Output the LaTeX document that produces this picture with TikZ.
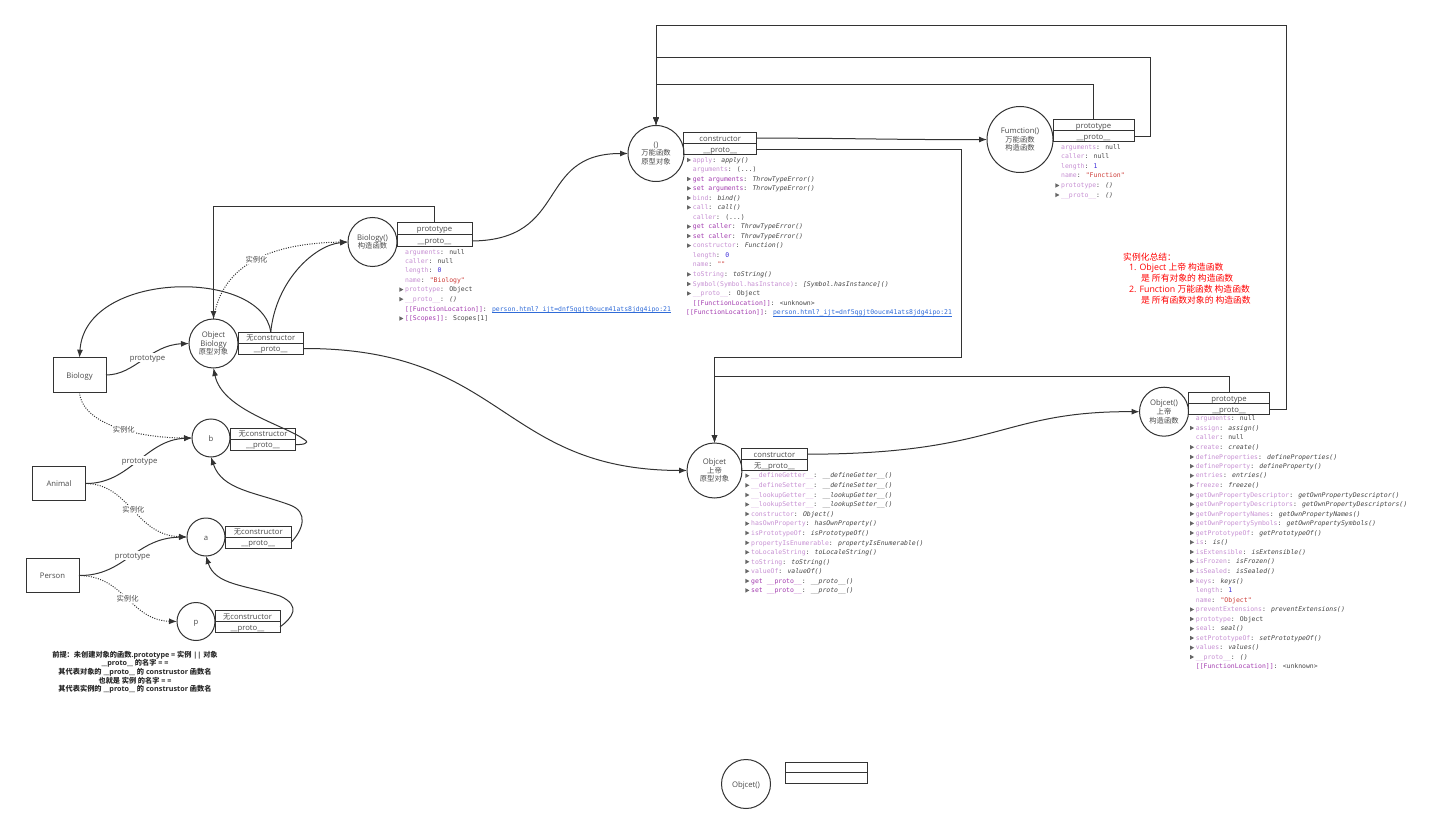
\documentclass[tikz,border=0pt]{standalone}
\usepackage{fontspec}
\setmainfont{Open Sans}
\newfontfamily\cjkf{Noto Sans CJK SC}
\newfontfamily\monof{DejaVu Sans Mono}
\usetikzlibrary{arrows.meta}
\definecolor{ink}{HTML}{333333}
\definecolor{txt}{HTML}{4A4A4A}
\definecolor{keyc}{HTML}{C68FD2}
\definecolor{accc}{HTML}{A23AAE}
\definecolor{valc}{HTML}{444444}
\definecolor{numc}{HTML}{3A2AD8}
\definecolor{strc}{HTML}{CC3A36}
\definecolor{linkc}{HTML}{2F6BD8}
\newcommand\C[1]{{\cjkf #1}}
\newcommand\LC[1]{{\fontsize{7.3}{8.7}\selectfont\cjkf #1}}
\newcommand\K[1]{\textcolor{keyc}{#1}}
\newcommand\A[1]{\textcolor{accc}{#1}}
\newcommand\I[1]{\textcolor{valc}{\itshape #1}}
\newcommand\Nn[1]{\textcolor{numc}{#1}}
\newcommand\St[1]{\textcolor{strc}{#1}}
\newcommand\Lk[1]{\textcolor{linkc}{\underline{\smash{#1}}}}
\def\lx{0}
\newcommand\pr[3]{\node[monotext] at (\lx,#1+2.2) {#3};\ifnum#2=1 \fill[tri] (\lx-5.6,#1-2.2) -- (\lx-1.6,#1) -- (\lx-5.6,#1+2.2) -- cycle;\fi}
\tikzset{
  x=1pt,y=-1pt,
  line/.style={draw=ink,line width=1pt},
  arr/.style={line,-{Latex[length=8pt,width=6pt]}},
  dotarr/.style={draw=ink,line width=1pt,dash pattern=on 1pt off 1.4pt,-{Latex[length=8pt,width=6pt]}},
  lab/.style={font=\fontsize{7.7}{8.7}\selectfont,text=txt,align=center,inner sep=0.5pt,outer sep=0pt},
  clab/.style={lab,fill=white,text height=7pt,text depth=1pt},
  cell/.style={lab,draw=ink,line width=1pt,minimum height=11pt,anchor=north west,inner sep=0pt,text height=7pt,text depth=1pt},
  rnd/.style={lab,draw=ink,line width=1pt,circle,inner sep=0pt,fill=white,execute at begin node={\rule{0pt}{8pt}}},
  box/.style={lab,draw=ink,line width=1pt,rectangle,inner sep=0pt,minimum width=53pt,minimum height=34.5pt,fill=white,text height=7pt,text depth=1pt},
  monotext/.style={font=\fontsize{6.46}{7}\selectfont\monof,anchor=base west,inner sep=0pt,text=valc},
  tri/.style={fill=black!60},
  redtext/.style={font=\fontsize{8.8}{10}\selectfont,text=red,anchor=west,inner sep=0pt},
  blacktext/.style={font=\fontsize{7.2}{8.6}\selectfont\bfseries,text=black!85,align=center,inner sep=0pt},
}
\begin{document}
\begin{tikzpicture}
\useasboundingbox (0,0) rectangle (1440,826);

% rectangles
\node[box] (biology) at (79.5,375) {Biology};
\node[box] (animal) at (59,483.5) {Animal};
\node[box] (person) at (52.5,575.5) {Person};

% circles
\node[rnd,minimum size=49pt] (objbio) at (213.5,343.5) {Object\\Biology\\\LC{原型对象}};
\node[rnd,minimum size=38pt] (b) at (211,438) {b};
\node[rnd,minimum size=38pt] (a) at (206,537) {a};
\node[rnd,minimum size=38pt] (p) at (196,621.5) {p};
\node[rnd,minimum size=49pt] (bioc) at (372.5,242) {Biology()\\\LC{构造函数}};
\node[rnd,minimum size=56pt] (fc) at (656,153.5) {()\\\LC{万能函数}\\\LC{原型对象}};
\node[rnd,minimum size=66pt] (fumc) at (1020,139.5) {Fumction()\\\LC{万能函数}\\\LC{构造函数}};
\node[rnd,minimum size=55pt] (oc) at (714.5,470.5) {Objcet\\\LC{上帝}\\\LC{原型对象}};
\node[rnd,minimum size=49pt] (objc) at (1164,411.7) {Objcet()\\\LC{上帝}\\\LC{构造函数}};
\node[rnd,minimum size=49pt] (lone) at (746,784) {Objcet()};

% tables
\node[cell,minimum width=65.5pt] (objbioA) at (238,332) {\LC{无}constructor};
\node[cell,minimum width=65.5pt] (objbioB) at (objbioA.south west) {\_\_proto\_\_};
\node[cell,minimum width=65pt] (bA) at (230.5,428) {\LC{无}constructor};
\node[cell,minimum width=65pt] (bB) at (bA.south west) {\_\_proto\_\_};
\node[cell,minimum width=65.5pt] (aA) at (225.5,526) {\LC{无}constructor};
\node[cell,minimum width=65.5pt] (aB) at (aA.south west) {\_\_proto\_\_};
\node[cell,minimum width=65pt] (pA) at (215,610.5) {\LC{无}constructor};
\node[cell,minimum width=65pt] (pB) at (pA.south west) {\_\_proto\_\_};
\node[cell,minimum width=75pt,minimum height=12pt] (bioA) at (397,223) {prototype};
\node[cell,minimum width=75pt,minimum height=12pt] (bioB) at (bioA.south west) {\_\_proto\_\_};
\node[cell,minimum width=73pt] (fcA) at (683.7,132.7) {constructor};
\node[cell,minimum width=73pt] (fcB) at (fcA.south west) {\_\_proto\_\_};
\node[cell,minimum width=81pt] (fumA) at (1053,119.7) {prototype};
\node[cell,minimum width=81pt] (fumB) at (fumA.south west) {\_\_proto\_\_};
\node[cell,minimum width=65.5pt] (ocA) at (741.7,448.7) {constructor};
\node[cell,minimum width=65.5pt] (ocB) at (ocA.south west) {\LC{无}\_\_proto\_\_};
\node[cell,minimum width=81.5pt] (objA) at (1188.3,392.7) {prototype};
\node[cell,minimum width=81.5pt] (objB) at (objA.south west) {\_\_proto\_\_};
\node[cell,minimum width=81.5pt,minimum height=10.5pt] (loneA) at (785.5,762) {};
\node[cell,minimum width=81.5pt,minimum height=10.5pt] (loneB) at (loneA.south west) {};

% elbows' corners
\coordinate (c1) at (1286,26);
\coordinate (c2) at (961,357);
\coordinate (c3) at (1150,58);

% connectors
\draw[arr] (objbioA.north) .. controls (262,268) and (85,270) .. (biology.north);
\draw[arr] (objbioA.north) .. controls (276,280) and (315,245) .. (bioc.west);
\draw[dotarr] (objbio.north) .. controls (222,262) and (275,243) .. node[clab]{\LC{实例化}} (bioc.west);
\draw[arr] (bioA.north) |- (objbio.north |- 0,207) -- (objbio.north);
\draw[arr] (biology.east) .. controls (135,375) and (150,345) .. node[clab,pos=.55]{prototype} (objbio.west);
\draw[dotarr] (biology.south) .. controls (82,425) and (140,438) .. node[clab,pos=.55]{\LC{实例化}} (b.west);
\draw[arr] (objbioB.east) .. controls (505,348) and (500,470) .. (oc.west);
\draw[arr] (bioB.east) .. controls (570,240) and (535,153.5) .. (fc.west);
\draw[arr] (bB.east) .. controls (303,445) and (310,443) .. (305,440) .. controls (285,425) and (222,410) .. (objbio.south);
\draw[arr] (aB.east) .. controls (303,530) and (309,512) .. (290,505) .. controls (255,492) and (222,490) .. (b.south);
\draw[arr] (pB.east) .. controls (292,618) and (302,606) .. (280,596) .. controls (245,585) and (215,585) .. (a.south);
\draw[arr] (animal.east) .. controls (130,484) and (145,440) .. node[clab,pos=.52]{prototype} (b.west);
\draw[dotarr] (animal.east) .. controls (130,484) and (135,535) .. node[clab]{\LC{实例化}} (a.west);
\draw[arr] (person.east) .. controls (125,576) and (135,538) .. node[clab,pos=.52]{prototype} (a.west);
\draw[dotarr] (person.east) .. controls (125,576) and (130,620) .. node[clab]{\LC{实例化}} (p.west);
\draw[arr] (fcA.east) .. controls (850,138) and (900,140) .. (fumc.west);
\draw[arr] (fcB.east) -| (c2) -| (oc.north);
\draw[arr] (ocA.east) .. controls (1000,454) and (1000,411) .. (objc.west);
\draw[arr] (objA.north) |- (oc.north |- 0,376) -- (oc.north);
\draw[arr] (objB.east) -| (c1) -| (fc.north);
\draw[arr] (fumA.north) |- (fc.north |- 0,85) -- (fc.north);
\draw[arr] (fumB.east) -| (c3) -| (fc.north);

% Biology() listing
\def\lx{405}
\pr{252}{0}{\K{arguments}: null}
\pr{261.3}{0}{\K{caller}: null}
\pr{270.7}{0}{\K{length}: \Nn{0}}
\pr{280}{0}{\K{name}: \St{"Biology"}}
\pr{289.6}{1}{\K{prototype}: Object}
\pr{299.2}{1}{\K{\_\_proto\_\_}: \I{()}}
\pr{309}{0}{\A{[[FunctionLocation]]}: \Lk{person.html?\_ijt=dnf5qgjt0oucm41ats8jdg4ipo:21}}
\pr{318.5}{1}{\A{[[Scopes]]}: Scopes[1]}

% () listing
\def\lx{692.7}
\pr{160}{1}{\K{apply}: \I{apply()}}
\pr{169.4}{0}{\K{arguments}: (...)}
\pr{179}{1}{\A{get arguments}: \I{ThrowTypeError()}}
\pr{188.4}{1}{\A{set arguments}: \I{ThrowTypeError()}}
\pr{198}{1}{\K{bind}: \I{bind()}}
\pr{207.4}{1}{\K{call}: \I{call()}}
\pr{217}{0}{\K{caller}: (...)}
\pr{226.6}{1}{\A{get caller}: \I{ThrowTypeError()}}
\pr{236}{1}{\A{set caller}: \I{ThrowTypeError()}}
\pr{245.6}{1}{\K{constructor}: \I{Function()}}
\pr{255}{0}{\K{length}: \Nn{0}}
\pr{264.7}{0}{\K{name}: \St{""}}
\pr{274.4}{1}{\K{toString}: \I{toString()}}
\pr{284}{1}{\K{Symbol(Symbol.hasInstance)}: \I{[Symbol.hasInstance]()}}
\pr{293.5}{1}{\K{\_\_proto\_\_}: Object}
\pr{303}{0}{\A{[[FunctionLocation]]}: <unknown>}
\def\lx{686}
\pr{312.6}{0}{\A{[[FunctionLocation]]}: \Lk{person.html?\_ijt=dnf5qgjt0oucm41ats8jdg4ipo:21}}

% Fumction() listing
\def\lx{1061}
\pr{147}{0}{\K{arguments}: null}
\pr{156.7}{0}{\K{caller}: null}
\pr{166.2}{0}{\K{length}: \Nn{1}}
\pr{175.7}{0}{\K{name}: \St{"Function"}}
\pr{185.5}{1}{\K{prototype}: \I{()}}
\pr{195}{1}{\K{\_\_proto\_\_}: \I{()}}

% Objcet 上帝 listing
\def\lx{751}
\pr{475.7}{1}{\K{\_\_defineGetter\_\_}: \I{\_\_defineGetter\_\_()}}
\pr{485.3}{1}{\K{\_\_defineSetter\_\_}: \I{\_\_defineSetter\_\_()}}
\pr{495}{1}{\K{\_\_lookupGetter\_\_}: \I{\_\_lookupGetter\_\_()}}
\pr{504.5}{1}{\K{\_\_lookupSetter\_\_}: \I{\_\_lookupSetter\_\_()}}
\pr{514}{1}{\K{constructor}: \I{Object()}}
\pr{523.6}{1}{\K{hasOwnProperty}: \I{hasOwnProperty()}}
\pr{533}{1}{\K{isPrototypeOf}: \I{isPrototypeOf()}}
\pr{542.8}{1}{\K{propertyIsEnumerable}: \I{propertyIsEnumerable()}}
\pr{552.3}{1}{\K{toLocaleString}: \I{toLocaleString()}}
\pr{561.8}{1}{\K{toString}: \I{toString()}}
\pr{571.2}{1}{\K{valueOf}: \I{valueOf()}}
\pr{581}{1}{\A{get \_\_proto\_\_}: \I{\_\_proto\_\_()}}
\pr{590.4}{1}{\A{set \_\_proto\_\_}: \I{\_\_proto\_\_()}}

% Objcet() listing
\def\lx{1195.7}
\pr{418.7}{0}{\K{arguments}: null}
\pr{428}{1}{\K{assign}: \I{assign()}}
\pr{437.7}{0}{\K{caller}: null}
\pr{447.2}{1}{\K{create}: \I{create()}}
\pr{457}{1}{\K{defineProperties}: \I{defineProperties()}}
\pr{466.2}{1}{\K{defineProperty}: \I{defineProperty()}}
\pr{475.7}{1}{\K{entries}: \I{entries()}}
\pr{485.5}{1}{\K{freeze}: \I{freeze()}}
\pr{494.8}{1}{\K{getOwnPropertyDescriptor}: \I{getOwnPropertyDescriptor()}}
\pr{504.4}{1}{\K{getOwnPropertyDescriptors}: \I{getOwnPropertyDescriptors()}}
\pr{513.8}{1}{\K{getOwnPropertyNames}: \I{getOwnPropertyNames()}}
\pr{523.4}{1}{\K{getOwnPropertySymbols}: \I{getOwnPropertySymbols()}}
\pr{533}{1}{\K{getPrototypeOf}: \I{getPrototypeOf()}}
\pr{542.3}{1}{\K{is}: \I{is()}}
\pr{552}{1}{\K{isExtensible}: \I{isExtensible()}}
\pr{561.4}{1}{\K{isFrozen}: \I{isFrozen()}}
\pr{571}{1}{\K{isSealed}: \I{isSealed()}}
\pr{581}{1}{\K{keys}: \I{keys()}}
\pr{590.2}{0}{\K{length}: \Nn{1}}
\pr{600}{0}{\K{name}: \St{"Object"}}
\pr{609.5}{1}{\K{preventExtensions}: \I{preventExtensions()}}
\pr{619}{1}{\K{prototype}: Object}
\pr{628.7}{1}{\K{seal}: \I{seal()}}
\pr{638}{1}{\K{setPrototypeOf}: \I{setPrototypeOf()}}
\pr{647.7}{1}{\K{values}: \I{values()}}
\pr{657}{1}{\K{\_\_proto\_\_}: \I{()}}
\pr{666.7}{0}{\A{[[FunctionLocation]]}: <unknown>}

% summary
\node[redtext] (s1) at (1123,257) {\C{实例化总结：}};
\node[redtext] (s2) at (1129,268) {1. Object \C{上帝 构造函数}};
\node[redtext] (s3) at (1141,278.5) {\C{是 所有对象的 构造函数}};
\node[redtext] (s4) at (1129,289) {2. Function \C{万能函数 构造函数}};
\node[redtext] (s5) at (1141,300.5) {\C{是 所有函数对象的 构造函数}};

% premise
\node[blacktext] (n1) at (135,655) {\C{前提：未创建对象的函数}.prototype = \C{实例} || \C{对象}};
\node[blacktext] (n2) at (135,663.5) {\_\_proto\_\_ \C{的名字} = =};
\node[blacktext] (n3) at (135,672.3) {\C{其代表对象的} \_\_proto\_\_ \C{的} construstor \C{函数名}};
\node[blacktext] (n4) at (135,681) {\C{也就是 实例 的名字} = =};
\node[blacktext] (n5) at (135,689.5) {\C{其代表实例的} \_\_proto\_\_ \C{的} construstor \C{函数名}};
\end{tikzpicture}
\end{document}
